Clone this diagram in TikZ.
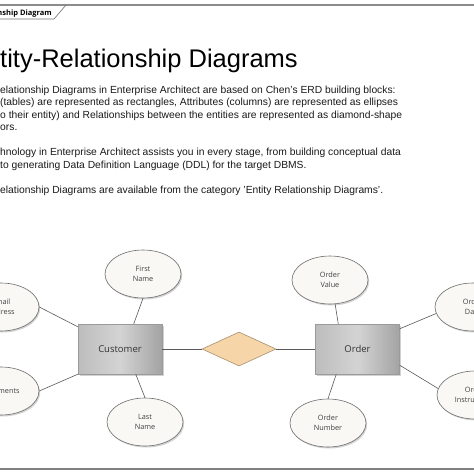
\documentclass[tikz,border=0pt]{standalone}
\usepackage{fontspec}
\setmainfont{Liberation Sans}
\newfontfamily\ofont{Open Sans}
\usetikzlibrary{shapes.geometric,calc,shadows}
\definecolor{txt}{HTML}{1A1A1A}
\definecolor{lbl}{HTML}{404040}
\definecolor{ellfill}{HTML}{FAF8F4}
\definecolor{ellline}{HTML}{6E6E6E}
\definecolor{diafill}{HTML}{F6D6A8}
\definecolor{dialine}{HTML}{A89070}
\definecolor{rectline}{HTML}{9A9A9A}
\definecolor{conn}{HTML}{5A5A5A}
\tikzset{
  attr/.style={ellipse, draw=ellline, fill=ellfill, line width=0.6pt,
    minimum width=76pt, minimum height=48pt, inner sep=0pt,
    align=center, text=lbl, font=\ofont\fontsize{7.3}{10.5}\selectfont,
    drop shadow={shadow xshift=1.2pt, shadow yshift=-1.5pt, opacity=0.35, fill=gray}},
  entity/.style={rectangle, draw=rectline, line width=0.5pt,
    minimum width=84pt, minimum height=50pt, inner sep=0pt,
    left color=black!26, right color=black!36, middle color=black!17,
    text=black!80, font=\ofont\fontsize{9.5}{11}\selectfont,
    drop shadow={shadow xshift=1.5pt, shadow yshift=-1.5pt, opacity=0.35, fill=gray}},
  relship/.style={diamond, draw=dialine, fill=diafill, line width=0.6pt,
    minimum width=74pt, minimum height=34pt, inner sep=0pt, aspect=2.2},
  link/.style={draw=conn, line width=0.6pt},
  bodytext/.style={anchor=base west, inner sep=0pt, text=txt,
    font=\fontsize{10.3}{12}\selectfont}
}
\begin{document}
\begin{tikzpicture}[x=1pt,y=-1pt]
\useasboundingbox (0,0) rectangle (474,474);
\fill[white] (0,0) rectangle (474,474);
\clip (0,0) rectangle (474,474);

% frame
\draw[line width=1.6pt, black!45] (0,5) -- (474,5);
\draw[line width=0.6pt, black!55] (0,19) -- (54,19) -- (66,5);
\node[anchor=base east, inner sep=0pt, font=\ofont\bfseries\fontsize{7.5}{9}\selectfont] (tab) at (52,15) {nship Diagram};
\draw[line width=2pt, black!50] (0,469) -- (474,469);

% title and text
\node[anchor=base east, inner sep=0pt, text=black, font=\fontsize{25.5}{28}\selectfont] (title) at (298,67) {tity-Relationship Diagrams};
\node[bodytext] (l1) at (0,93) {elationship Diagrams in Enterprise Architect are based on Chen's ERD building blocks:};
\node[bodytext] (l2) at (0,105.5) {(tables) are represented as rectangles, Attributes (columns) are represented as ellipses};
\node[bodytext] (l3) at (0,118) {o their entity) and Relationships between the entities are represented as diamond-shape};
\node[bodytext] (l4) at (0,130.5) {ors.};
\node[bodytext] (l5) at (0,155.5) {hnology in Enterprise Architect assists you in every stage, from building conceptual data};
\node[bodytext] (l6) at (0,168) {to generating Data Definition Language (DDL) for the target DBMS.};
\node[bodytext] (l7) at (0,193) {elationship Diagrams are available from the category 'Entity Relationship Diagrams'.};

% entities and relationship
\node[entity] (cust) at (120,349) {Customer};
\node[entity] (ord) at (357.5,349) {Order};
\node[relship] (rel) at (239,349) {};

% attributes
\node[attr] (fn) at (143,274) {First\\Name};
\node[attr] (lnm) at (145,422) {Last\\Name};
\node[attr] (em) at (1,307) {Email\\Address};
\node[attr] (cm) at (1,391) {Comments};
\node[attr] (ov) at (330,280) {Order\\Value};
\node[attr] (on) at (328,423) {Order\\Number};
\node[attr] (od) at (473,307) {Order\\Date};
\node[attr] (oi) at (475,395) {Order\\Instructions};

% connectors
\draw[link] (em.east) -- ($(cust.north west)+(0,3)$);
\draw[link] (cm.east) -- (cust.south west);
\draw[link] (fn.south) -- ($(cust.north west)+(56,0)$);
\draw[link] ($(cust.south west)+(58,0)$) -- (lnm.north);
\draw[link] (cust.east) -- (rel.west);
\draw[link] (rel.east) -- (ord.west);
\draw[link] (ov.-78) -- ($(ord.north west)+(23,0)$);
\draw[link] ($(ord.south west)+(21,0)$) -- (on.north);
\draw[link] ($(ord.north east)+(0,5)$) -- (od.190);
\draw[link] ($(ord.south east)+(0,-9)$) -- (oi.170);
\end{tikzpicture}
\end{document}
